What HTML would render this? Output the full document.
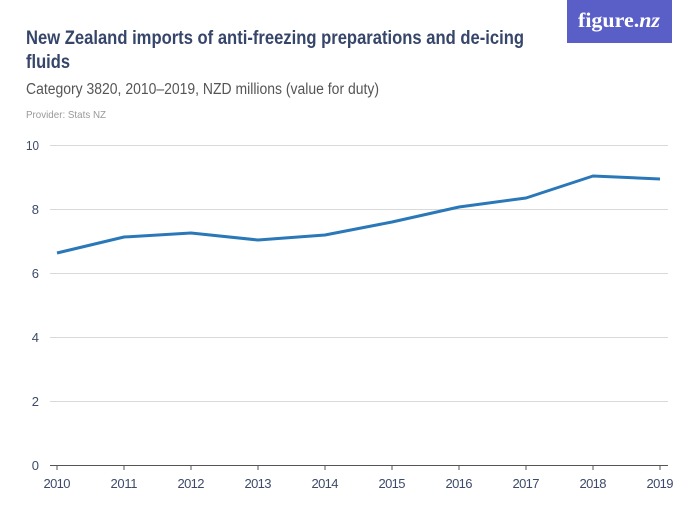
<!DOCTYPE html>
<html><head><meta charset="utf-8"><style>
body{margin:0;width:700px;height:525px;background:#fff;overflow:hidden;font-family:"Liberation Sans",sans-serif}
</style></head><body>
<svg width="700" height="525" xmlns="http://www.w3.org/2000/svg" style="position:absolute;left:0;top:0">
<rect x="567" y="0" width="105" height="43" fill="#5a5fc8"/>
<text x="619" y="27" text-anchor="middle" fill="#fff" font-family="Liberation Serif,serif" font-size="21" font-weight="bold" textLength="82" lengthAdjust="spacingAndGlyphs">figure.<tspan font-style="italic">nz</tspan></text>
<g font-family="Liberation Sans,sans-serif">
<text x="26" y="44" font-size="19" fill="#36456a" font-weight="bold" textLength="498" lengthAdjust="spacingAndGlyphs" style="font-weight:600">New Zealand imports of anti-freezing preparations and de-icing</text>
<text x="26" y="68" font-size="19" fill="#36456a" textLength="44" lengthAdjust="spacingAndGlyphs" style="font-weight:600">fluids</text>
<text x="26" y="94" font-size="15.5" fill="#555" textLength="353" lengthAdjust="spacingAndGlyphs">Category 3820, 2010–2019, NZD millions (value for duty)</text>
<text x="26" y="118" font-size="10.5" fill="#999" textLength="80" lengthAdjust="spacingAndGlyphs">Provider: Stats NZ</text>
<g stroke="#d9d9d9" stroke-width="1">
<line x1="50" x2="668" y1="145.5" y2="145.5"/><line x1="50" x2="668" y1="209.5" y2="209.5"/><line x1="50" x2="668" y1="273.5" y2="273.5"/><line x1="50" x2="668" y1="337.5" y2="337.5"/><line x1="50" x2="668" y1="401.5" y2="401.5"/>
</g>
<line x1="50" x2="668" y1="465.5" y2="465.5" stroke="#555"/>
<g font-size="13" fill="#3d4a6a" text-anchor="end">
<text x="39" y="150" textLength="13" lengthAdjust="spacingAndGlyphs">10</text><text x="39" y="214">8</text><text x="39" y="278">6</text><text x="39" y="342">4</text><text x="39" y="406">2</text><text x="39" y="470">0</text>
</g>
<g stroke="#555"><line x1="57" x2="57" y1="465" y2="470"/><line x1="124" x2="124" y1="465" y2="470"/><line x1="191" x2="191" y1="465" y2="470"/><line x1="258" x2="258" y1="465" y2="470"/><line x1="325" x2="325" y1="465" y2="470"/><line x1="392" x2="392" y1="465" y2="470"/><line x1="459" x2="459" y1="465" y2="470"/><line x1="526" x2="526" y1="465" y2="470"/><line x1="593" x2="593" y1="465" y2="470"/><line x1="660" x2="660" y1="465" y2="470"/></g>
<g font-size="13" fill="#3d4a6a" text-anchor="middle" lengthAdjust="spacingAndGlyphs">
<text x="57" y="488" textLength="27">2010</text><text x="124" y="488" textLength="27">2011</text><text x="191" y="488" textLength="27">2012</text><text x="258" y="488" textLength="27">2013</text><text x="325" y="488" textLength="27">2014</text><text x="392" y="488" textLength="27">2015</text><text x="459" y="488" textLength="27">2016</text><text x="526" y="488" textLength="27">2017</text><text x="593" y="488" textLength="27">2018</text><text x="660" y="488" textLength="27">2019</text>
</g>
<polyline fill="none" stroke="#2a78b8" stroke-width="3" stroke-linejoin="round" points="57,253 124,237 191,233 258,240 325,235 392,222 459,207 526,198 593,176 660,179"/>
</g>
</svg>
</body></html>
